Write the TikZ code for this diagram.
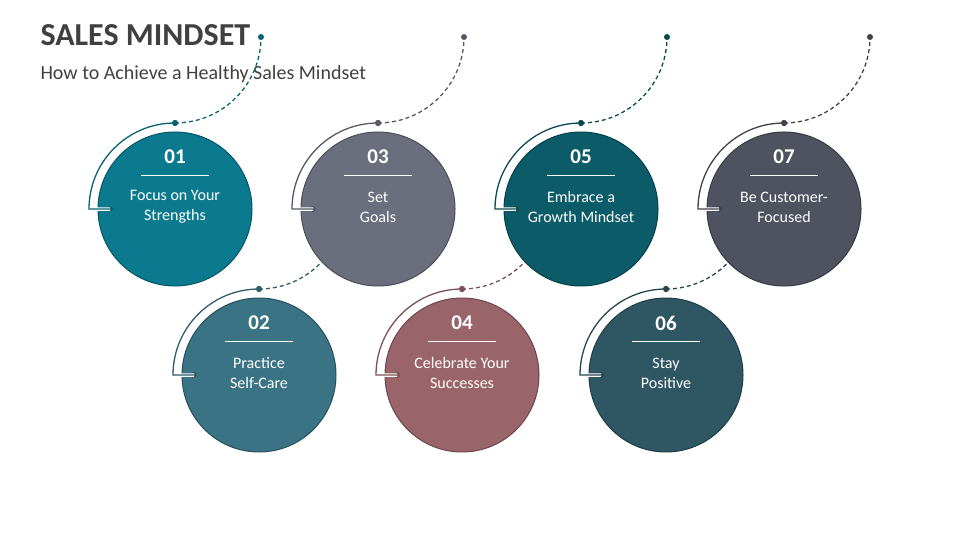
\documentclass[tikz,border=0pt]{standalone}
\usepackage{fontspec}
\setmainfont{Carlito}
\begin{document}
\begin{tikzpicture}[x=1pt,y=-1pt]
\useasboundingbox (0,0) rectangle (960,540);
\definecolor{ttl}{HTML}{404040}
\definecolor{cA}{HTML}{0B7A8F}\definecolor{cB}{HTML}{3A7383}
\definecolor{cC}{HTML}{6B6E7C}\definecolor{cD}{HTML}{9A646B}
\definecolor{cE}{HTML}{0C5B68}\definecolor{cF}{HTML}{2E5763}
\definecolor{cG}{HTML}{4F535F}
\tikzset{circ/.style={circle,minimum size=154pt,inner sep=0pt,draw=#1!70!black,line width=1pt,fill=#1},
  arcs/.style={draw=#1!80!black,line width=1.3pt},
  dot/.style={circle,fill=#1!80!black,inner sep=0pt,minimum size=6pt}}
\node[anchor=west,font=\bfseries\fontsize{32}{36}\selectfont,text=ttl] (title) at (37,35) {SALES MINDSET};
\node[anchor=west,font=\fontsize{20}{24}\selectfont,text=ttl] (sub) at (37,74) {How to Achieve a Healthy Sales Mindset};
\foreach \n/\x/\y/\c/\l/\m in {01/175/209/cA/Focus on Your/Strengths, 02/259/375/cB/Practice/Self-Care,
  03/378/209/cC/Set/Goals, 04/462/375/cD/Celebrate Your/Successes, 05/581/209/cE/Embrace a/Growth Mindset,
  06/666/375/cF/Stay/Positive, 07/784/209/cG/Be Customer-/Focused}{
  \node[circ=\c] (c\n) at (\x,\y) {};
  \draw[arcs=\c,dashed,dash pattern=on 4pt off 3pt] (\x,\y-86) arc[start angle=90,end angle=0,radius=86] coordinate (de\n);
  \node[dot=\c] (ds\n) at (\x,\y-86) {};
  \node[dot=\c] (dr\n) at (de\n) {};
  \node[dot=\c] (li\n) at (\x-65,\y) {};
  \draw[white,line width=3.5pt] (li\n.center) -- (\x-86,\y) arc[start angle=180,end angle=270,radius=86];
  \draw[arcs=\c] (li\n.center) -- (\x-86,\y) arc[start angle=180,end angle=270,radius=86] coordinate (be\n);
  \node[dot=\c] (bd\n) at (be\n) {};
  \node[text=white,font=\bfseries\fontsize{21}{24}\selectfont] (n\n) at (\x,\y-52) {\n};
  \draw[white,line width=0.8pt] (\x-34,\y-34) -- (\x+34,\y-34);
  \node[text=white,font=\fontsize{16}{20}\selectfont,align=center] (t\n) at (\x,\y-2) {\l\\\m};
}
\end{tikzpicture}
\end{document}
